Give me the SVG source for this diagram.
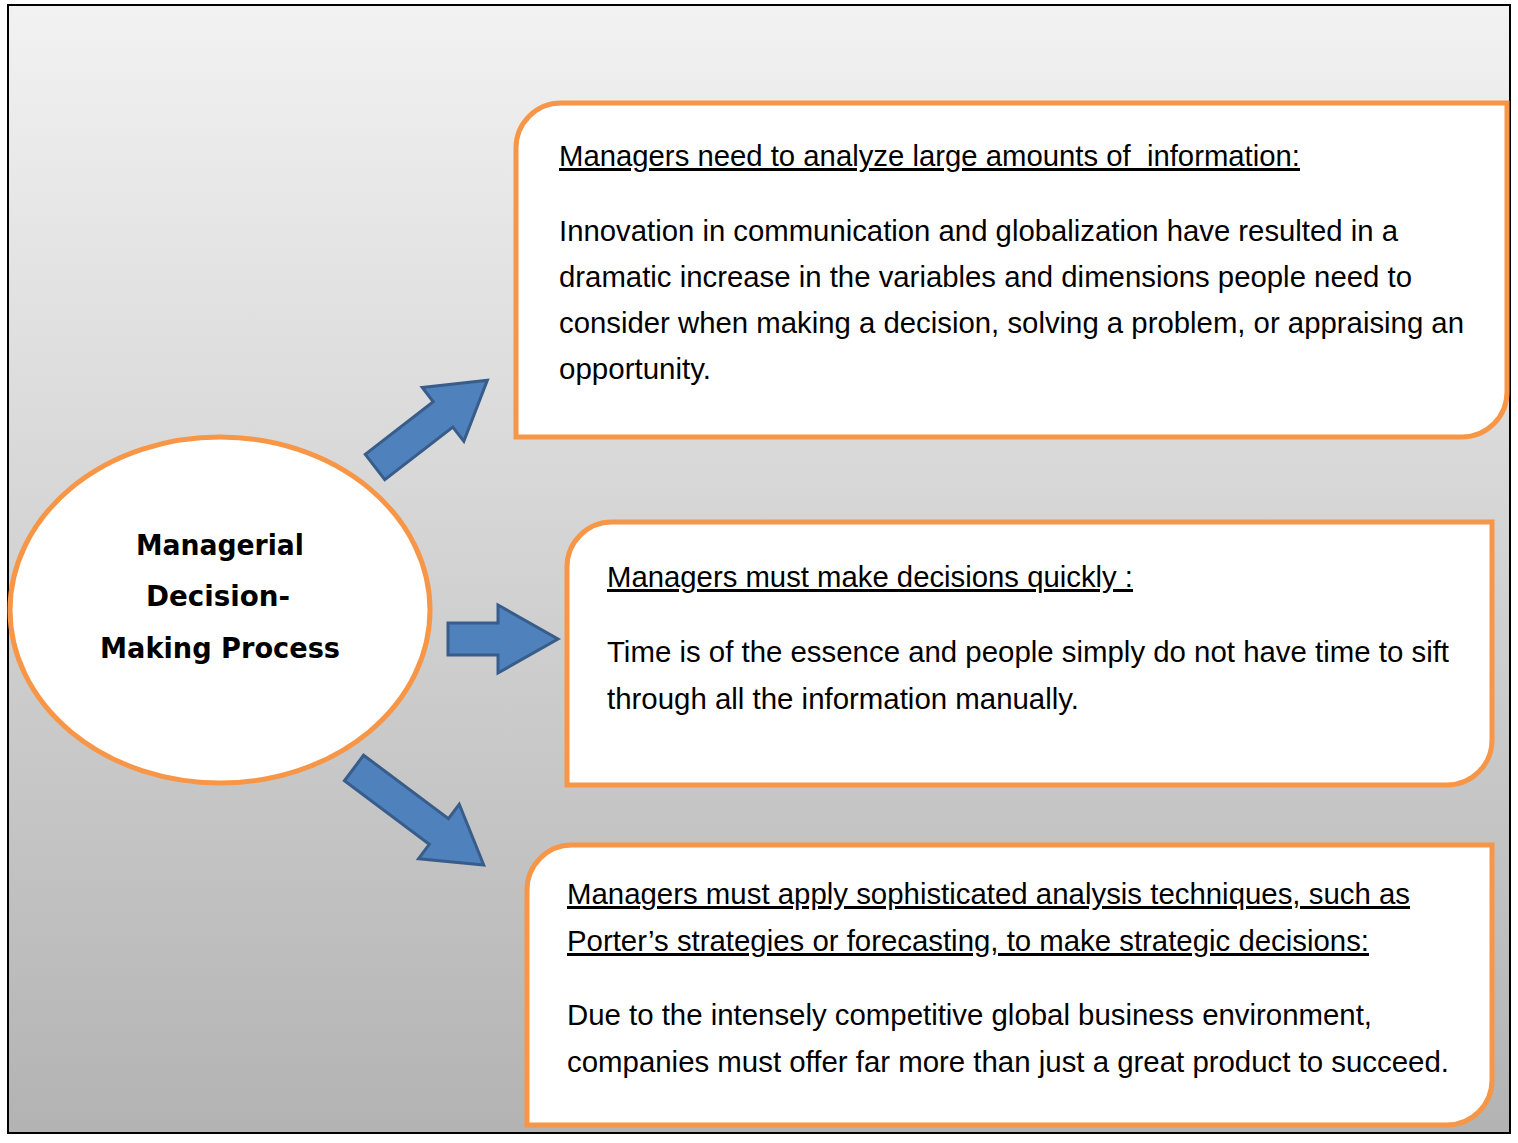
<svg xmlns="http://www.w3.org/2000/svg" width="1518" height="1143" viewBox="0 0 1518 1143">
<defs>
<linearGradient id="bg" x1="0" y1="0" x2="0" y2="1"><stop offset="0" stop-color="#f2f2f2"/><stop offset="1" stop-color="#b3b3b3"/></linearGradient>
<style>
.box{fill:#fff;stroke:#f79646;stroke-width:5}
.t{font-family:"Liberation Sans",Arial,sans-serif;font-size:30px;fill:#000}
.u{text-decoration:underline}
.arr{fill:#4f81bd;stroke:#385d8a;stroke-width:3}
.c{font-family:"DejaVu Sans",sans-serif;font-size:28px;font-weight:bold;text-anchor:middle}
</style>
</defs>
<rect x="8" y="5" width="1502" height="1128" fill="url(#bg)" stroke="#000" stroke-width="2"/>
<g id="center">
<ellipse cx="220" cy="610" rx="210" ry="173" class="box"/>
<text class="c" x="220" y="555" textLength="168" lengthAdjust="spacingAndGlyphs">Managerial</text>
<text class="c" x="218" y="606" textLength="144" lengthAdjust="spacingAndGlyphs">Decision-</text>
<text class="c" x="220" y="658" textLength="240" lengthAdjust="spacingAndGlyphs">Making Process</text>
</g>
<g id="box1">
<path class="box" d="M561,103 H1507 V392 A45,45 0 0 1 1462,437 H516 V148 A45,45 0 0 1 561,103Z"/>
<text class="t u" x="559" y="166" textLength="741" lengthAdjust="spacingAndGlyphs">Managers need to analyze large amounts of&#160; information:</text>
<text class="t" x="559" y="241" textLength="839" lengthAdjust="spacingAndGlyphs">Innovation in communication and globalization have resulted in a</text>
<text class="t" x="559" y="287" textLength="853" lengthAdjust="spacingAndGlyphs">dramatic increase in the variables and dimensions people need to</text>
<text class="t" x="559" y="333" textLength="905" lengthAdjust="spacingAndGlyphs">consider when making a decision, solving a problem, or appraising an</text>
<text class="t" x="559" y="379" textLength="152" lengthAdjust="spacingAndGlyphs">opportunity.</text>
</g>
<g id="box2">
<path class="box" d="M612,522 H1492 V740 A45,45 0 0 1 1447,785 H567 V567 A45,45 0 0 1 612,522Z"/>
<text class="t u" x="607" y="587" textLength="526" lengthAdjust="spacingAndGlyphs">Managers must make decisions quickly :</text>
<text class="t" x="607" y="662" textLength="842" lengthAdjust="spacingAndGlyphs">Time is of the essence and people simply do not have time to sift</text>
<text class="t" x="607" y="709" textLength="472" lengthAdjust="spacingAndGlyphs">through all the information manually.</text>
</g>
<g id="box3">
<path class="box" d="M572,845 H1492 V1080 A45,45 0 0 1 1447,1125 H527 V890 A45,45 0 0 1 572,845Z"/>
<text class="t u" x="567" y="904" textLength="843" lengthAdjust="spacingAndGlyphs">Managers must apply sophisticated analysis techniques, such as</text>
<text class="t u" x="567" y="951" textLength="802" lengthAdjust="spacingAndGlyphs">Porter’s strategies or forecasting, to make strategic decisions:</text>
<text class="t" x="567" y="1025" textLength="805" lengthAdjust="spacingAndGlyphs">Due to the intensely competitive global business environment,</text>
<text class="t" x="567" y="1072" textLength="882" lengthAdjust="spacingAndGlyphs">companies must offer far more than just a great product to succeed.</text>
</g>
<g id="connectors">
<polygon class="arr" transform="translate(375,467) rotate(-37.7)" points="0,-16 86,-16 86,-34 142,0 86,34 86,16 0,16"/>
<polygon class="arr" transform="translate(448,639)" points="0,-16 50,-16 50,-34 110,0 50,34 50,16 0,16"/>
<polygon class="arr" transform="translate(354,768) rotate(36.8)" points="0,-16 106,-16 106,-34 162,0 106,34 106,16 0,16"/>
</g>
</svg>
